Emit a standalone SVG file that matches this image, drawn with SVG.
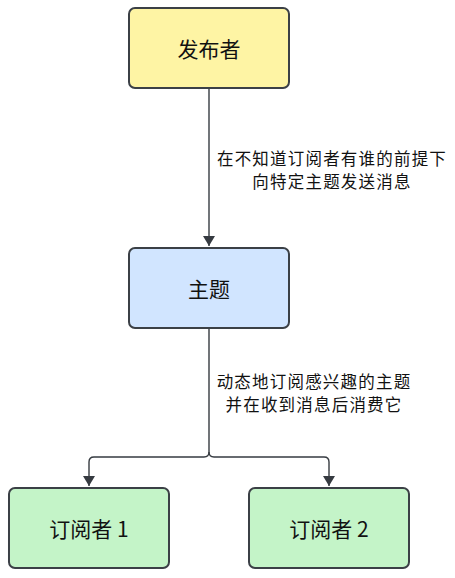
<svg xmlns="http://www.w3.org/2000/svg" width="455" height="578" viewBox="0 0 455 578">
<style>
.box{stroke:#3b4046;stroke-width:2}
.t{font-family:"Noto Sans CJK SC","Noto Sans",sans-serif;fill:#111;text-anchor:middle;dominant-baseline:central}
.bt{font-size:21px}
.lt{font-size:16.5px;letter-spacing:1.2px}
.c{fill:none;stroke:#363b41;stroke-width:1.4}
</style>
<defs>
<marker id="ah" viewBox="0 0 10 12" refX="10" refY="6" markerWidth="11" markerHeight="12" markerUnits="userSpaceOnUse" orient="auto">
<path d="M0,0 L10,6 L0,12 z" fill="#363b41"/>
</marker>
</defs>
<g id="connectors">
<path class="c" d="M209,89 V246" marker-end="url(#ah)"/>
<path class="c" d="M209,329 V452 Q209,457 204,457 H94 Q89,457 89,462 V486" marker-end="url(#ah)"/>
<path class="c" d="M209,452 Q209,457 214,457 H324 Q329,457 329,462 V486" marker-end="url(#ah)"/>
<text class="t lt" x="332" y="158">在不知道订阅者有谁的前提下</text>
<text class="t lt" x="332" y="181">向特定主题发送消息</text>
<text class="t lt" x="314" y="381">动态地订阅感兴趣的主题</text>
<text class="t lt" x="314" y="404">并在收到消息后消费它</text>
</g>
<g id="publisher">
<rect class="box" x="129" y="8" width="160" height="80" rx="6" fill="#fef4a4"/>
<text class="t bt" x="209" y="48">发布者</text>
</g>
<g id="topic">
<rect class="box" x="129" y="248" width="160" height="80" rx="6" fill="#d1e5ff"/>
<text class="t bt" x="209" y="288">主题</text>
</g>
<g id="sub1">
<rect class="box" x="9" y="488" width="160" height="80" rx="6" fill="#c4f4c8"/>
<text class="t bt" x="89" y="528">订阅者 1</text>
</g>
<g id="sub2">
<rect class="box" x="249" y="488" width="160" height="80" rx="6" fill="#c4f4c8"/>
<text class="t bt" x="329" y="528">订阅者 2</text>
</g>
</svg>
